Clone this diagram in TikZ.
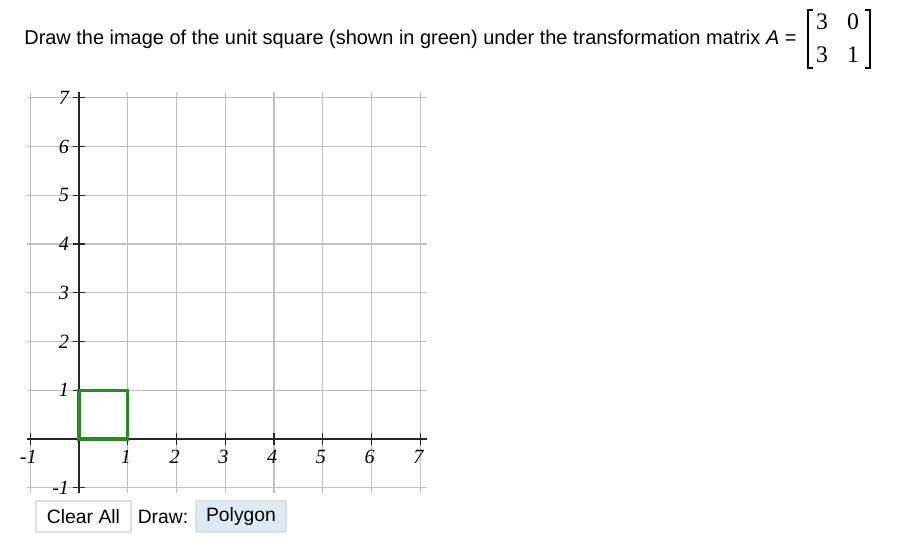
\documentclass[tikz,border=0pt]{standalone}
\usepackage{fontspec}
\setmainfont{Liberation Sans}
\newfontfamily\numfont{Liberation Serif}
\usetikzlibrary{positioning}

\definecolor{polyblue}{RGB}{222,234,246}
\definecolor{sqgreen}{RGB}{34,140,34}

\tikzset{
  gridline/.style={gray!50, line width=0.7pt},
  axisline/.style={black!85, line width=0.6pt},
  ticklabel/.style={font=\numfont\itshape\fontsize{11.5}{11.5}\selectfont, inner sep=1pt},
  matnum/.style={font=\numfont\fontsize{13.5}{13.5}\selectfont, inner sep=0pt},
  unitsq/.style={sqgreen, line width=1.8pt},
  btn/.style={draw=gray!25, line width=0.6pt, minimum width=1.9cm, minimum height=0.62cm,
    font=\fontsize{11}{12}\selectfont, inner sep=0pt},
}

\begin{document}
\begin{tikzpicture}
        \useasboundingbox (0,0) rectangle (18.44,10.9); %页面大小
        \node[anchor=base west, inner sep=0pt, font=\fontsize{11.35}{12}\selectfont] (title) at (0.48,10.02)
            {Draw the image of the unit square (shown in green) under the transformation matrix \textit{A} =};
        % 矩阵
        \node[matnum] (a11) at (16.44,10.46) {3};
        \node[matnum] (a12) at (17.06,10.46) {0};
        \node[matnum] (a21) at (16.44,9.80) {3};
        \node[matnum] (a22) at (17.06,9.80) {1};
        \draw[line width=0.9pt] (16.26,10.70) -- (16.16,10.70) -- (16.16,9.54) -- (16.26,9.54);
        \draw[line width=0.9pt] (17.30,10.70) -- (17.40,10.70) -- (17.40,9.54) -- (17.30,9.54);
        % 坐标系
        \begin{scope}[shift={(1.58,2.12)}, x=0.975cm, y=0.975cm]
            \foreach \i in {-1,...,7} {
                \draw[gridline] (\i,-1.11) -- (\i,7.12); %竖线
                \draw[gridline] (-1.07,\i) -- (7.14,\i); %横线
            }
            \draw[axisline] (-1.07,0) -- (7.14,0) coordinate (xend); %x轴
            \draw[axisline] (0,-1.11) -- (0,7.12) coordinate (yend); %y轴
            \foreach \i in {-1,1,2,...,7} {
                \draw[axisline] (\i,-0.12) -- (\i,0.12);
                \draw[axisline] (-0.12,\i) -- (0.12,\i);
                \node[ticklabel] (xl\i) at (\i-0.04,-0.36) {\i};
                \node[ticklabel, anchor=east] (yl\i) at (-0.16,\i) {\i};
            }
            \draw[unitsq] (0,0) rectangle (1,1); %单位正方形
        \end{scope}
        % 按钮
        \node[btn, fill=white] (clear) at (1.67,0.57) {Clear All};
        \node[font=\fontsize{11}{12}\selectfont, inner sep=0pt] (drawlbl) at (3.26,0.57) {Draw:};
        \node[btn, fill=polyblue, minimum width=1.8cm] (poly) at (4.82,0.57) {Polygon};
\end{tikzpicture}
\end{document}
